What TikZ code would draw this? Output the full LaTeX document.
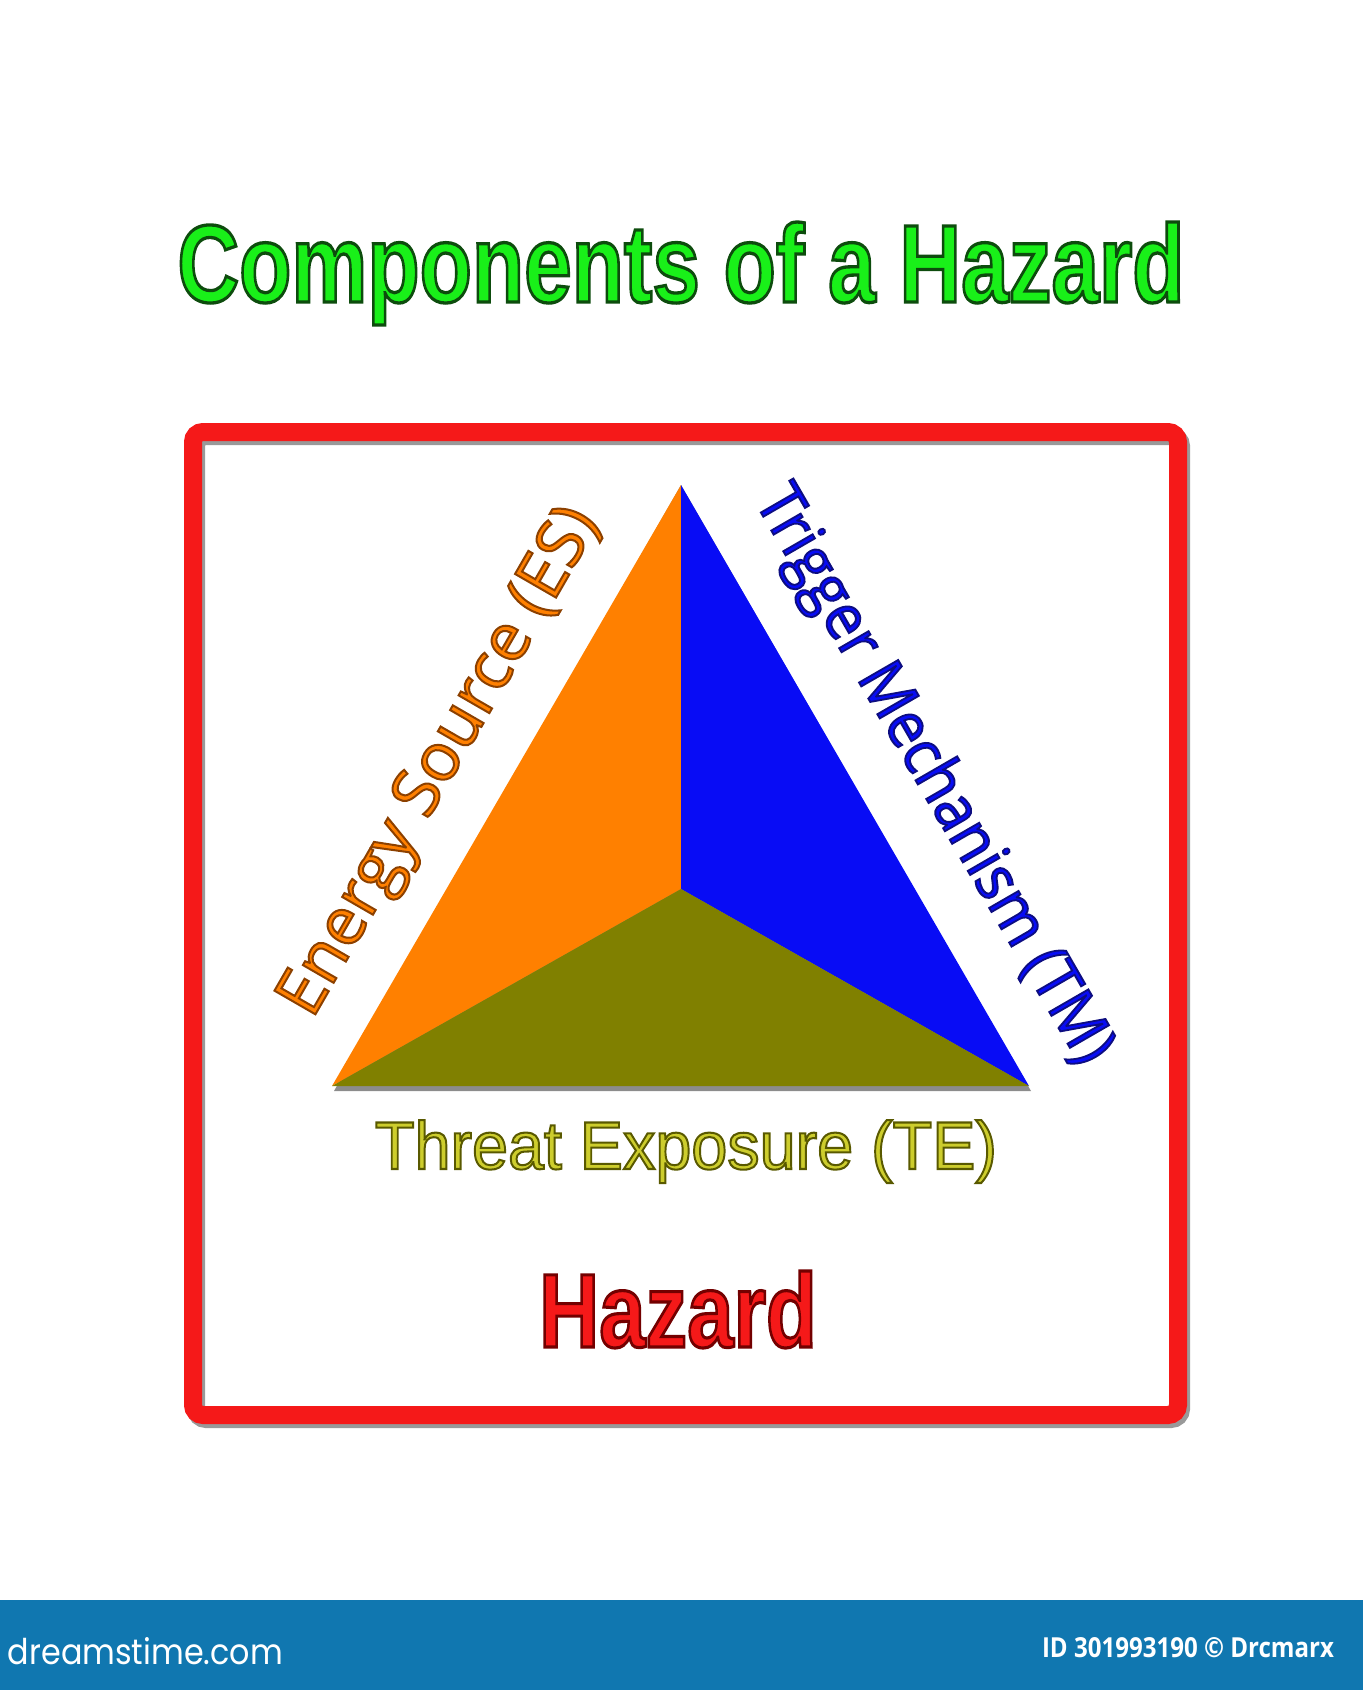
\documentclass[tikz,border=0pt]{standalone}
\usepackage{fontspec}
\usepackage{graphicx}
\setmainfont{Liberation Sans}
\newfontfamily\sidefont{Open Sans}
\newfontfamily\logofont{Poppins}
\usetikzlibrary{positioning}
\definecolor{esorange}{RGB}{255,128,0}
\definecolor{tmblue}{RGB}{8,12,245}
\definecolor{teolive}{RGB}{128,128,0}
\definecolor{titlegreen}{RGB}{25,240,25}
\definecolor{teyellow}{RGB}{205,205,45}
\definecolor{hazred}{RGB}{245,25,25}
\definecolor{barblue}{RGB}{16,119,176}
% text filled in its colour, stroked with a darker edge (#1 = r g b of the edge)
\newcommand{\edged}[2]{\special{pdf:literal direct 2 Tr 0.3 w #1 RG}#2\special{pdf:literal direct 0 Tr}}
\tikzset{
every node/.style={inner sep=0pt, outer sep=0pt},
face/.style={draw=none},
barlabel/.style={text=white, anchor=base west}}

\begin{document}
\begin{tikzpicture}[x=0.02cm, y=-0.02cm]
\useasboundingbox (0,0) rectangle (1363,1690);
% title
\node[text=titlegreen, anchor=base] (title) at (681,302) {\resizebox{20.14cm}{1.6cm}{\bfseries\edged{0.05 0.3 0.05}{Components of a Hazard}}};
% frame
\draw[line width=0.36cm, black!40, rounded corners=0.2cm] (196,436) rectangle (1181,1419);
\draw[line width=0.36cm, hazred, rounded corners=0.2cm] (193,432) rectangle (1178,1415);
% triangle corners
\coordinate (apex) at (681,485);
\coordinate (bl) at (332,1086);
\coordinate (br) at (1029,1086);
\coordinate (mid) at (681,889);
\fill[black!45] ([xshift=0.04cm, yshift=-0.1cm]bl) -- ([xshift=0.04cm, yshift=-0.1cm]br) -- (apex) -- cycle;
\fill[face, esorange] (apex) -- (bl) -- (mid) -- cycle;
\fill[face, tmblue] (apex) -- (mid) -- (br) -- cycle;
\fill[face, teolive] (bl) -- (mid) -- (br) -- cycle;
% side labels
\node[text=esorange, rotate=60] (es) at (442,763) {\resizebox{11.5cm}{0.96cm}{\sidefont\edged{0.55 0.25 0}{Energy Source (ES)}}};
\node[text=tmblue, rotate=-60] (tm) at (932,776) {\resizebox{13.1cm}{0.96cm}{\sidefont\edged{0.05 0.05 0.5}{Trigger Mechanism (TM)}}};
\node[text=teyellow, anchor=base] (te) at (686,1169) {\resizebox{12.44cm}{0.98cm}{\edged{0.35 0.35 0}{Threat Exposure (TE)}}};
% bottom word
\node[text=hazred, anchor=base] (hazard) at (678,1347) {\resizebox{5.56cm}{1.52cm}{\bfseries\edged{0.45 0 0}{Hazard}}};
% stock bar
\fill[barblue] (0,1600) rectangle (1363,1690);
\node[barlabel] (logo) at (8,1664) {\resizebox{5.5cm}{0.54cm}{\logofont dreamstime.com}};
\node[barlabel] (imageid) at (1042,1657) {\resizebox{5.84cm}{0.4cm}{\sidefont\bfseries ID 301993190 © Drcmarx}};
\end{tikzpicture}
\end{document}
